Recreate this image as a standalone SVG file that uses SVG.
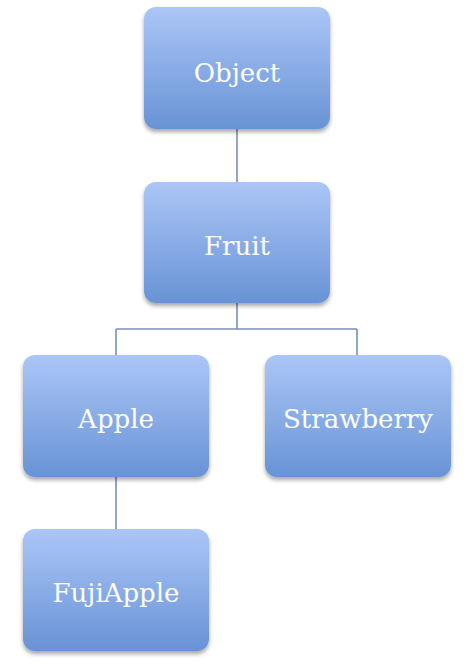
<svg xmlns="http://www.w3.org/2000/svg" width="474" height="669" viewBox="0 0 474 669">
  <defs>
    <linearGradient id="g" x1="0" y1="0" x2="0" y2="1">
      <stop offset="0" stop-color="#abc6f6"/>
      <stop offset="1" stop-color="#6893d6"/>
    </linearGradient>
    <filter id="sh" x="-10%" y="-10%" width="120%" height="130%">
      <feGaussianBlur in="SourceAlpha" stdDeviation="2"/>
      <feOffset dx="0" dy="3" result="b"/>
      <feComponentTransfer><feFuncA type="linear" slope="0.35"/></feComponentTransfer>
      <feMerge><feMergeNode/><feMergeNode in="SourceGraphic"/></feMerge>
    </filter>
  </defs>
  <style>
    .box { fill: url(#g); filter: url(#sh); }
    .lbl { font-family: "DejaVu Serif", "Liberation Serif", serif; font-size: 26px; fill: #ffffff; text-anchor: middle; }
    .con { stroke: #7b8fb6; stroke-width: 1.6; fill: none; }
  </style>
  <rect width="474" height="669" fill="#ffffff"/>
  <g id="connectors">
    <path class="con" d="M237 129 V182"/>
    <path class="con" d="M237 303 V329 M116 329 H357 M116 329 V355 M357 329 V355"/>
    <path class="con" d="M116 477 V529"/>
  </g>
  <g id="object">
    <rect class="box" x="144" y="7" width="186" height="122" rx="12"/>
    <text class="lbl" x="237" y="82">Object</text>
  </g>
  <g id="fruit">
    <rect class="box" x="144" y="182" width="186" height="121" rx="12"/>
    <text class="lbl" x="237" y="255">Fruit</text>
  </g>
  <g id="apple">
    <rect class="box" x="23" y="355" width="186" height="122" rx="12"/>
    <text class="lbl" x="116" y="428">Apple</text>
  </g>
  <g id="strawberry">
    <rect class="box" x="265" y="355" width="186" height="122" rx="12"/>
    <text class="lbl" x="358" y="428">Strawberry</text>
  </g>
  <g id="fujiapple">
    <rect class="box" x="23" y="529" width="186" height="122" rx="12"/>
    <text class="lbl" x="116" y="602">FujiApple</text>
  </g>
</svg>
